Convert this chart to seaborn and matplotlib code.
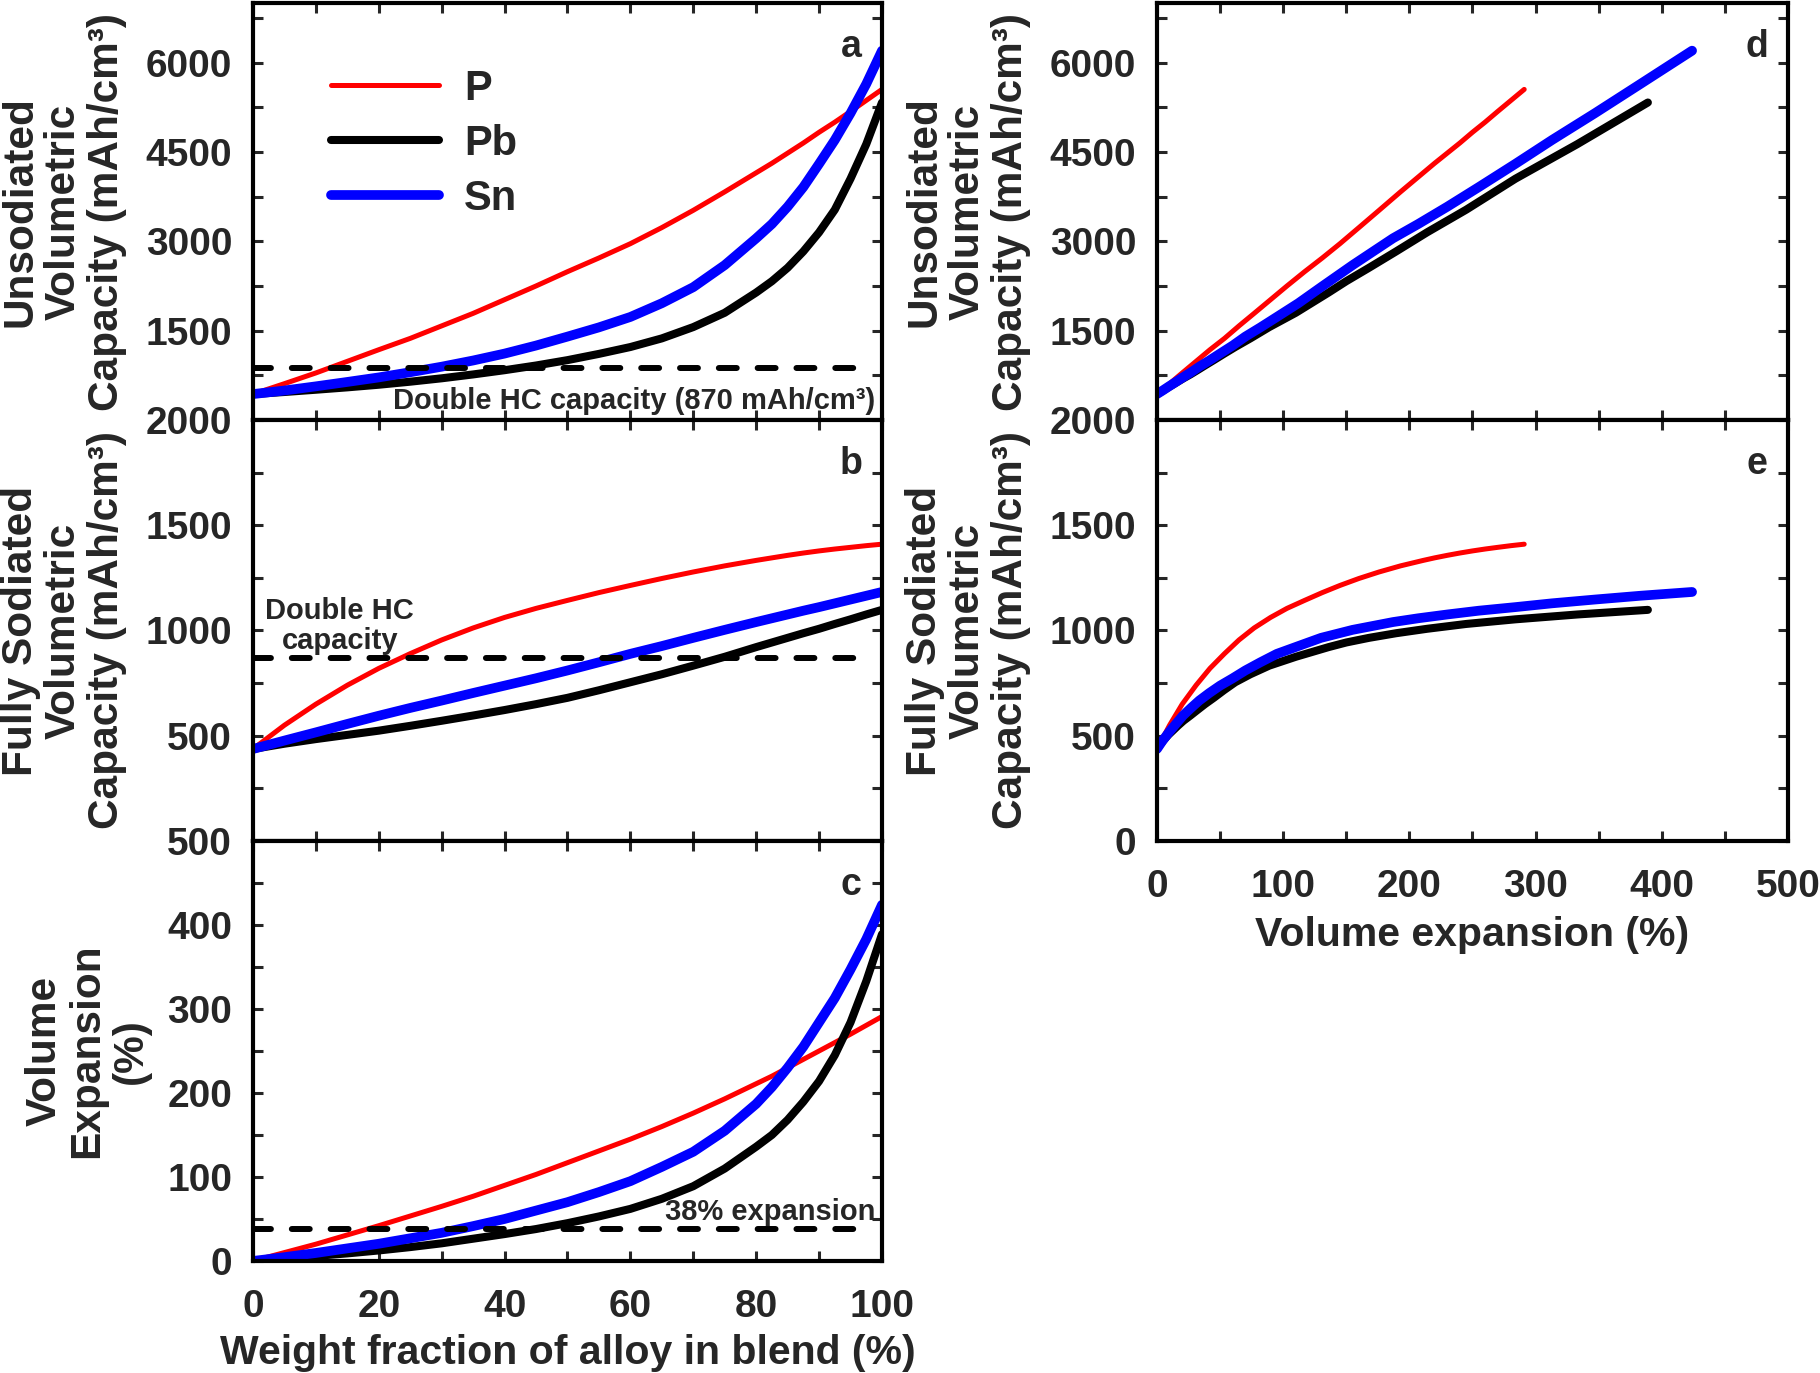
import numpy as np
import pandas as pd
import matplotlib
matplotlib.use("Agg")
import matplotlib.pyplot as plt
import seaborn as sns
from matplotlib.ticker import MultipleLocator
from matplotlib.lines import Line2D

# ─────────────────────────────────────────────
# DATA
# ─────────────────────────────────────────────
weight_pct = [0, 5, 10, 15, 20, 25, 30, 35, 40, 45, 50, 55, 60, 65, 70, 75,
              80, 82.5, 85, 87.5, 90, 92.5, 95, 97.5, 100]

# unsodiated volumetric capacity (mAh/cm3)
unsod_P = [435, 610, 790, 985, 1180, 1370, 1580, 1790, 2020, 2250, 2490, 2720,
           2960, 3230, 3520, 3830, 4150, 4310, 4480, 4650, 4830, 5000, 5180,
           5365, 5550]
unsod_Pb = [435, 470, 508, 548, 592, 643, 700, 765, 836, 915, 1005, 1110,
            1225, 1370, 1560, 1800, 2140, 2330, 2555, 2830, 3150, 3530, 4050,
            4630, 5330]
unsod_Sn = [435, 495, 565, 639, 715, 802, 895, 999, 1115, 1250, 1400, 1555,
            1730, 1960, 2230, 2600, 3050, 3290, 3580, 3910, 4300, 4700, 5150,
            5640, 6200]

# fully sodiated volumetric capacity (mAh/cm3)
sod_P = [437, 550, 650, 740, 820, 890, 955, 1012, 1062, 1105, 1143, 1180,
         1214, 1247, 1278, 1307, 1333, 1345, 1357, 1368, 1378, 1387, 1395,
         1403, 1410]
sod_Pb = [437, 462, 484, 504, 524, 547, 571, 596, 622, 650, 680, 716,
          754, 792, 833, 875, 921, 943, 965, 987, 1008, 1031, 1053, 1076, 1098]
sod_Sn = [437, 477, 516, 556, 595, 632, 667, 703, 738, 773, 810, 849,
          889, 926, 965, 1003, 1040, 1058, 1076, 1094, 1111, 1129, 1147, 1165,
          1183]

# volume expansion (%)
exp_P = [0, 10, 20, 31, 42, 53.5, 65, 77, 90, 103, 117, 131,
         145, 160, 176, 193, 211, 220, 230, 240, 250, 260, 270, 280.5, 291]
exp_Pb = [0, 3, 6, 9, 12.5, 16.5, 21, 26.5, 32, 38, 45, 53,
          62, 74, 89, 110, 136, 150, 168, 189.5, 214, 245, 284, 333, 389]
exp_Sn = [0, 4.5, 9.5, 15, 20.5, 27, 33.5, 41.5, 50, 60, 70, 82,
          95, 112, 130, 155, 187, 207, 230, 255, 284, 313, 347, 383, 424]

alloys = ["P", "Pb", "Sn"]
hc_double = 870        # double HC capacity, mAh/cm3
exp_limit = 38         # 38 % expansion
dash_end = 96          # dashed guide stops short of the right axis

n = len(weight_pct)
blend = pd.DataFrame({
    "weight": weight_pct * 3,
    "alloy": [a for a in alloys for _ in range(n)],
    "unsod": unsod_P + unsod_Pb + unsod_Sn,
    "sod": sod_P + sod_Pb + sod_Sn,
    "exp": exp_P + exp_Pb + exp_Sn,
})

colors = {"P": "#ff0000", "Pb": "#000000", "Sn": "#0000ff"}
widths = {"P": 3.6, "Pb": 5.8, "Sn": 7.0}

# ─────────────────────────────────────────────
# STYLE
# ─────────────────────────────────────────────
sns.set_style("ticks")
plt.rcParams["font.family"] = ["Liberation Sans", "DejaVu Sans"]
plt.rcParams["font.weight"] = "bold"
plt.rcParams["axes.labelweight"] = "bold"
plt.rcParams["axes.linewidth"] = 3
plt.rcParams["axes.edgecolor"] = "black"

TICK_FS = 28
LABEL_FS = 30.5

fig = plt.figure(figsize=(18.2, 13.73), dpi=100)
L0, LW = 0.1390, 0.3456
R0, RW = 0.6357, 0.3467
ax_a = fig.add_axes([L0, 0.6941, LW, 0.3037])
ax_b = fig.add_axes([L0, 0.3875, LW, 0.3066])
ax_c = fig.add_axes([L0, 0.0816, LW, 0.3059])
ax_d = fig.add_axes([R0, 0.6941, RW, 0.3037])
ax_e = fig.add_axes([R0, 0.3875, RW, 0.3066])


def draw(ax, xcol, ycol):
    for a in alloys:
        sub = blend[blend["alloy"] == a]
        sns.lineplot(data=sub, x=xcol, y=ycol, ax=ax, color=colors[a],
                     linewidth=widths[a], sort=False, estimator=None,
                     solid_capstyle="round", solid_joinstyle="round",
                     legend=False)


def dashed(ax, yval):
    ax.plot([0, dash_end], [yval, yval], color="black", lw=4.3,
            ls=(0, (3.0, 3.5)), dash_capstyle="round", zorder=5)


def style(ax, xlim, xmaj, xmin, ylim, yticks, ymin, showx):
    ax.set_xlim(*xlim)
    ax.set_ylim(*ylim)
    ax.xaxis.set_major_locator(MultipleLocator(xmaj))
    ax.xaxis.set_minor_locator(MultipleLocator(xmin))
    ax.set_yticks(yticks)
    ax.yaxis.set_minor_locator(MultipleLocator(ymin))
    ax.tick_params(which="both", direction="in", top=True, right=True,
                   length=7, width=2.2)
    ax.tick_params(axis="y", labelsize=TICK_FS, pad=15)
    ax.tick_params(axis="x", labelsize=TICK_FS, pad=20, labelbottom=showx)
    for s in ax.spines.values():
        s.set_linewidth(3)
    ax.set_xlabel("")
    ax.set_ylabel("")


# panel a
draw(ax_a, "weight", "unsod")
dashed(ax_a, hc_double)
style(ax_a, (0, 100), 20, 10, (0, 7000), [1500, 3000, 4500, 6000], 750, False)
ax_a.text(0.99, 320, "Double HC capacity (870 mAh/cm\u00b3)", fontsize=21,
          fontweight="bold", ha="right", va="center",
          transform=ax_a.get_yaxis_transform())

# panel b
draw(ax_b, "weight", "sod")
dashed(ax_b, hc_double)
style(ax_b, (0, 100), 20, 10, (0, 2000), [500, 1000, 1500, 2000], 250, False)
ax_b.text(13.8, 1021, "Double HC\ncapacity", fontsize=21, fontweight="bold",
          ha="center", va="center", linespacing=1.1)

# panel c
draw(ax_c, "weight", "exp")
dashed(ax_c, exp_limit)
style(ax_c, (0, 100), 20, 10, (0, 500), [0, 100, 200, 300, 400, 500], 50, True)
ax_c.text(0.99, 58, "38% expansion", fontsize=21, fontweight="bold",
          ha="right", va="center", transform=ax_c.get_yaxis_transform())

# panel d
draw(ax_d, "exp", "unsod")
style(ax_d, (0, 500), 100, 50, (0, 7000), [1500, 3000, 4500, 6000], 750, False)

# panel e
draw(ax_e, "exp", "sod")
style(ax_e, (0, 500), 100, 50, (0, 2000), [0, 500, 1000, 1500, 2000], 250, True)

# axis labels
unsod_lbl = "Unsodiated\nVolumetric\nCapacity (mAh/cm\u00b3)"
sod_lbl = "Fully Sodiated\nVolumetric\nCapacity (mAh/cm\u00b3)"
for ax, lbl, xc in [(ax_a, unsod_lbl, -0.200), (ax_b, sod_lbl, -0.200),
                    (ax_c, "Volume\nExpansion\n(%)", -0.163),
                    (ax_d, unsod_lbl, -0.200), (ax_e, sod_lbl, -0.200)]:
    ax.set_ylabel(lbl, fontsize=LABEL_FS, fontweight="bold", linespacing=1.1)
    ax.yaxis.set_label_coords(xc, 0.5)

ax_c.set_xlabel("Weight fraction of alloy in blend (%)", fontsize=LABEL_FS - 1,
                fontweight="bold")
ax_c.xaxis.set_label_coords(0.5, -0.174)
ax_e.set_xlabel("Volume expansion (%)", fontsize=LABEL_FS - 1, fontweight="bold")
ax_e.xaxis.set_label_coords(0.5, -0.178)

# panel letters
for ax, letter in [(ax_a, "a"), (ax_b, "b"), (ax_c, "c"), (ax_d, "d"), (ax_e, "e")]:
    ax.text(0.951, 0.895, letter, transform=ax.transAxes, fontsize=27,
            fontweight="bold", ha="center", va="center")

# legend
handles = [Line2D([], [], color=colors[a], lw=widths[a], solid_capstyle="round")
           for a in alloys]
ax_a.legend(handles, alloys, loc="upper left", bbox_to_anchor=(0.124, 0.842),
            frameon=False, borderaxespad=0, borderpad=0, handlelength=2.6,
            handletextpad=0.6, labelspacing=0.36,
            prop={"size": 30, "weight": "bold"})

fig.savefig("out.png", dpi=100)
